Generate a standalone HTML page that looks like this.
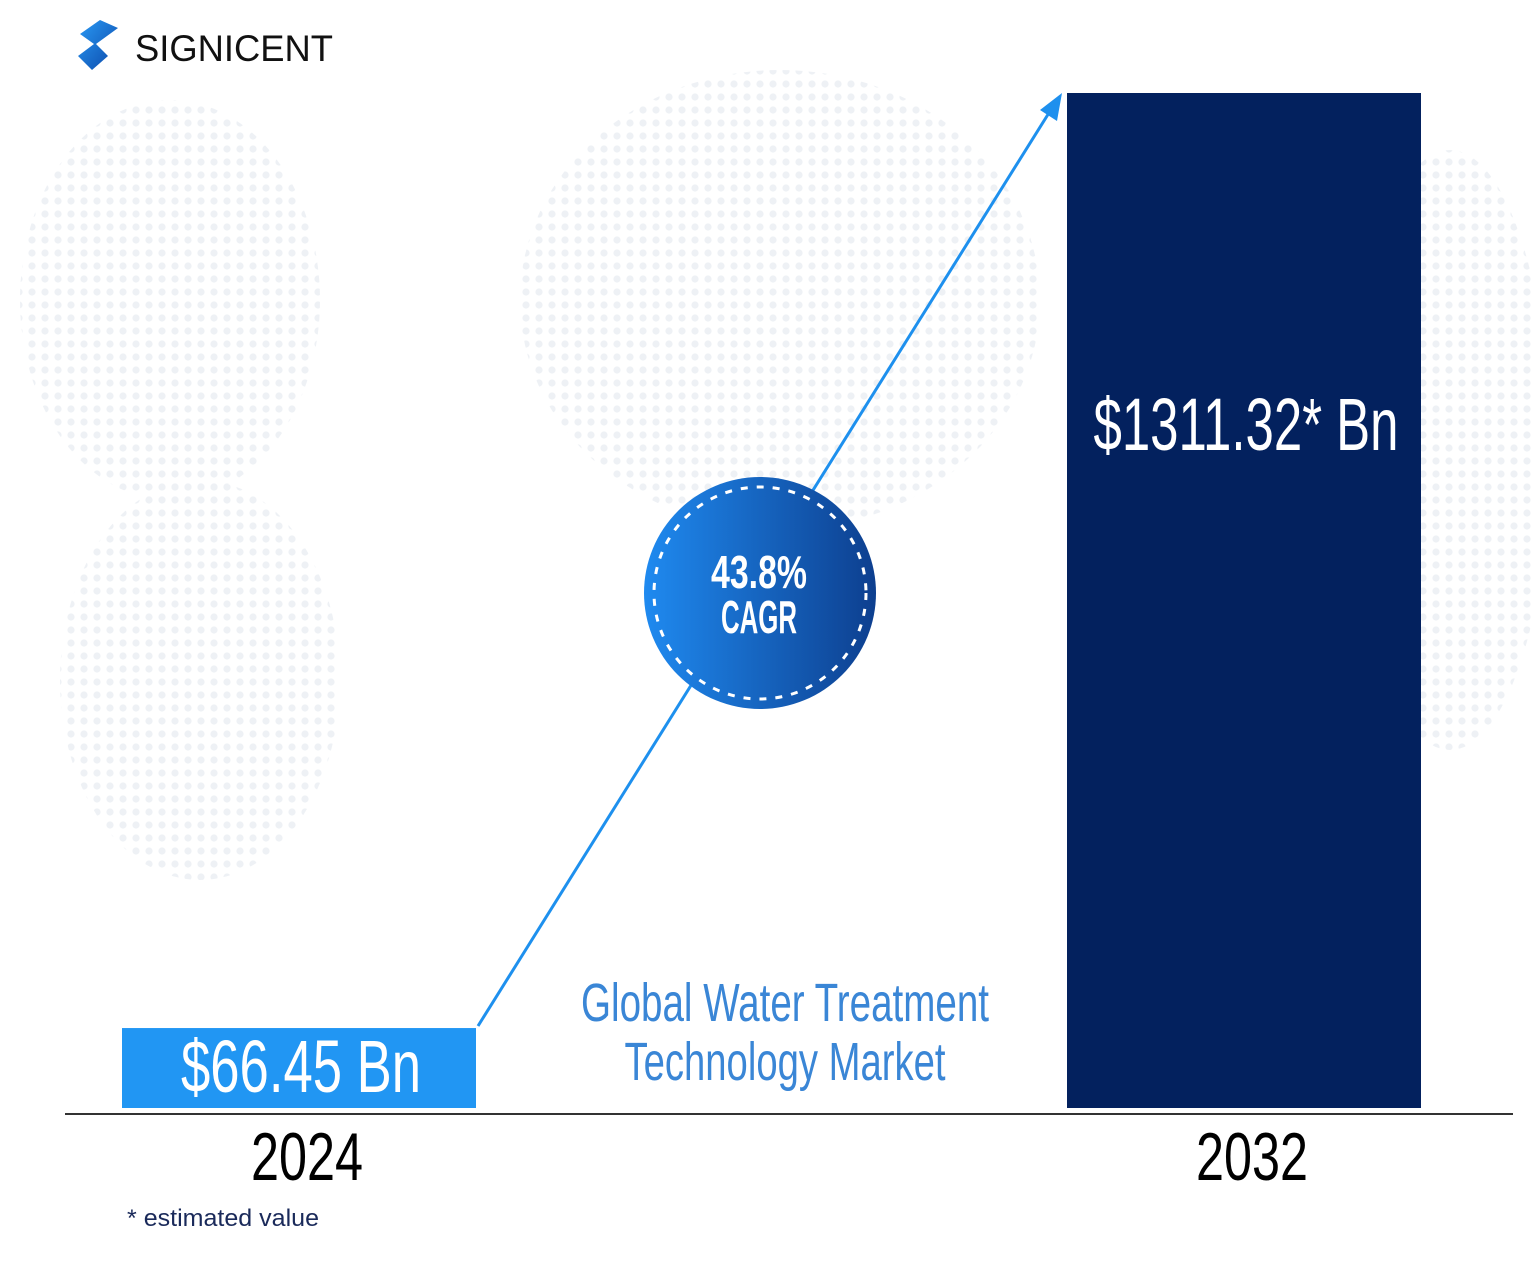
<!DOCTYPE html>
<html><head><meta charset="utf-8"><style>
html,body{margin:0;padding:0;background:#fff;}
svg{display:block;}
.nar{font-family:"Liberation Sans",sans-serif;}
</style></head><body>
<svg id="chart" width="1536" height="1261" viewBox="0 0 1536 1261" xmlns="http://www.w3.org/2000/svg">
<defs>
<linearGradient id="cg" x1="0" x2="1" y1="0" y2="0"><stop offset="0" stop-color="#1f8af0"/><stop offset="1" stop-color="#0d3f8f"/></linearGradient>
<linearGradient id="lg" x1="0" x2="1" y1="0" y2="1"><stop offset="0" stop-color="#2a9af5"/><stop offset="1" stop-color="#0b47a8"/></linearGradient>
<pattern id="dots" width="13" height="13" patternUnits="userSpaceOnUse"><circle cx="6" cy="6" r="3.6" fill="#eef1f5"/></pattern>
</defs>
<g>
<ellipse cx="170" cy="300" rx="150" ry="200" fill="url(#dots)"/>
<ellipse cx="200" cy="680" rx="140" ry="200" fill="url(#dots)"/>
<ellipse cx="780" cy="300" rx="260" ry="230" fill="url(#dots)"/>
<ellipse cx="1450" cy="450" rx="100" ry="300" fill="url(#dots)"/>
</g>
<g>
<path d="M100 20 L118 28 L96 44 L108 56 L92 70 L78 56 L94 44 L80 34 Z" fill="url(#lg)"/>
<text x="135" y="61" font-family="Liberation Sans, sans-serif" font-size="37" fill="#111" textLength="198" lengthAdjust="spacingAndGlyphs">SIGNICENT</text>
</g>
<line x1="65" y1="1114" x2="1513" y2="1114" stroke="#333" stroke-width="2"/>
<g id="bars"></g>
<g>
<line x1="478" y1="1026" x2="1052" y2="108" stroke="#1e90ee" stroke-width="3"/>
<polygon points="1062,93 1057,121 1040,110" fill="#1e90ee"/>
</g>
<g>
<circle cx="760" cy="593" r="116" fill="url(#cg)"/>
<circle cx="760" cy="593" r="106" fill="none" stroke="#fff" stroke-width="3" stroke-dasharray="7 9"/>
<text class="nar" x="759" y="588" font-size="46" font-weight="bold" fill="#fff" text-anchor="middle" textLength="96" lengthAdjust="spacingAndGlyphs">43.8%</text>
<text class="nar" x="759" y="633" font-size="46" font-weight="bold" fill="#fff" text-anchor="middle" textLength="76" lengthAdjust="spacingAndGlyphs">CAGR</text>
</g>
<text class="nar" x="785" y="1021" font-size="54" fill="#3a86d6" text-anchor="middle" textLength="408" lengthAdjust="spacingAndGlyphs">Global Water Treatment</text>
<text class="nar" x="785" y="1080" font-size="54" fill="#3a86d6" text-anchor="middle" textLength="321" lengthAdjust="spacingAndGlyphs">Technology Market</text>
<text x="127" y="1226" font-family="Liberation Sans, sans-serif" font-size="24" fill="#1a2a5a" textLength="192" lengthAdjust="spacingAndGlyphs">* estimated value</text>
</svg>
<script>
const years = ["2024", "2032"];
const values = [66.45, 1311.32];
const valueLabels = ["$66.45 Bn", "$1311.32* Bn"];
const barColors = ["#2196f3", "#03215e"];
const NS = "http://www.w3.org/2000/svg";
const baseY = 1108, topY = 93, dmin = -40, dmax = 1311.32;
function yScale(v){ return baseY - (v - dmin) / (dmax - dmin) * (baseY - topY); }
function xScale(i){ return 122 + i * 945; }
const g = document.getElementById("bars");
years.forEach((yr, i) => {
  const x = xScale(i), y = yScale(values[i]), w = 354;
  const r = document.createElementNS(NS, "rect");
  r.setAttribute("x", x); r.setAttribute("y", y); r.setAttribute("width", w); r.setAttribute("height", baseY - y);
  r.setAttribute("fill", barColors[i]);
  
  
  g.appendChild(r);
  const t = document.createElementNS(NS, "text");
  t.setAttribute("class", "nar");
  t.setAttribute("x", x + w / 2 + 2);
  t.setAttribute("y", i === 0 ? baseY - 16 : 450);
  t.setAttribute("font-size", "74");
  t.setAttribute("fill", "#fff");
  t.setAttribute("text-anchor", "middle");
  t.setAttribute("textLength", i === 0 ? 240 : 305);
  t.setAttribute("lengthAdjust", "spacingAndGlyphs");
  t.textContent = valueLabels[i];
  
  
  g.appendChild(t);
  const l = document.createElementNS(NS, "text");
  l.setAttribute("class", "nar");
  l.setAttribute("x", x + w / 2 + 8);
  l.setAttribute("y", 1180);
  l.setAttribute("font-size", "68");
  l.setAttribute("fill", "#000");
  l.setAttribute("text-anchor", "middle");
  l.setAttribute("textLength", 112);
  l.setAttribute("lengthAdjust", "spacingAndGlyphs");
  l.textContent = yr;
  
  
  g.appendChild(l);
});
</script>
</body></html>
